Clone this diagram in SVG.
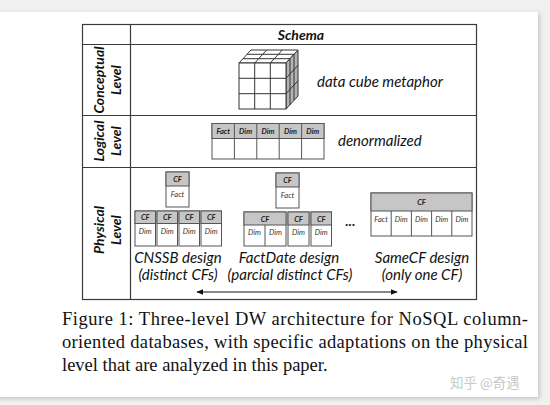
<svg xmlns="http://www.w3.org/2000/svg" width="550" height="405" viewBox="0 0 550 405">
<style>
.ln{fill:none;stroke:#3a3a3a;stroke-width:1.2}
.bx{fill:#fff;stroke:#555;stroke-width:1}
.hd{fill:#c6c6c6;stroke:#555;stroke-width:1}
.gl{stroke:#555;stroke-width:1;fill:none}
.lbl{font-family:Lato,"Open Sans",sans-serif;font-style:italic;font-weight:bold;font-size:14px;fill:#111}
.it{font-family:Lato,"Open Sans",sans-serif;font-style:italic;font-size:15px;fill:#111}
.hb{font-family:Lato,"Open Sans",sans-serif;font-style:italic;font-weight:bold;font-size:7.5px;fill:#222;text-anchor:middle}
.cl{font-family:Lato,"Open Sans",sans-serif;font-style:italic;font-size:7.5px;fill:#333;text-anchor:middle}
.cap{font-family:"Liberation Serif","Times New Roman",serif;font-size:18.5px;fill:#111}
</style>
<defs>
<marker id="ah" viewBox="0 0 10 10" refX="9" refY="5" markerWidth="7" markerHeight="7" orient="auto-start-reverse" markerUnits="userSpaceOnUse">
<path d="M0,1 L10,5 L0,9 z" fill="#111"/>
</marker>
<filter id="sh" x="-5%" y="-5%" width="110%" height="110%">
<feGaussianBlur stdDeviation="2"/>
</filter>
</defs>
<rect x="0" y="0" width="550" height="405" fill="#f1f1f1"/>
<rect x="-5" y="13" width="545" height="386" fill="#c8c8c8" filter="url(#sh)"/>
<rect x="-5" y="12" width="543" height="385" fill="#fff"/>

<g id="table">
<rect x="82.5" y="24.5" width="394" height="275" class="ln"/>
<line x1="130.5" y1="24.5" x2="130.5" y2="299.5" class="ln"/>
<line x1="82.5" y1="44.5" x2="476.5" y2="44.5" class="ln"/>
<line x1="82.5" y1="115.5" x2="476.5" y2="115.5" class="ln"/>
<line x1="82.5" y1="167.5" x2="476.5" y2="167.5" class="ln"/>
<text class="lbl" x="301" y="40" text-anchor="middle" font-size="16">Schema</text>
<text class="lbl" transform="translate(104,80) rotate(-90)" text-anchor="middle">Conceptual</text>
<text class="lbl" transform="translate(121,80) rotate(-90)" text-anchor="middle">Level</text>
<text class="lbl" transform="translate(104,141) rotate(-90)" text-anchor="middle">Logical</text>
<text class="lbl" transform="translate(121,141) rotate(-90)" text-anchor="middle">Level</text>
<text class="lbl" transform="translate(104,230) rotate(-90)" text-anchor="middle">Physical</text>
<text class="lbl" transform="translate(121,230) rotate(-90)" text-anchor="middle">Level</text>
</g>

<g id="cube">
<polygon points="239,63 286,63 298,50 251,50" fill="#fff" stroke="#333" stroke-width="1"/>
<polygon points="286,63 298,50 298,96 286,109" fill="#b4b4b4" stroke="#333" stroke-width="1"/>
<rect x="239" y="63" width="47" height="46" fill="#fff" stroke="#333" stroke-width="1"/>
<path d="M254.7,63V109M270.3,63V109M239,78.3H286M239,93.7H286" stroke="#333" stroke-width="1"/>
<path d="M254.7,63L266.7,50M270.3,63L282.3,50M243,58.7H290M247,54.3H294" stroke="#333" stroke-width="1"/>
<path d="M290,58.7V104.7M294,54.3V100.3M286,78.3L298,65.3M286,93.7L298,80.7" stroke="#333" stroke-width="1"/>
<text class="it" x="317" y="87">data cube metaphor</text>
</g>

<g id="logical">
<rect x="212" y="123.5" width="112" height="35.5" class="bx"/>
<rect x="212" y="123.5" width="112" height="15" class="hd"/>
<path d="M234.4,123.5V159M256.8,123.5V159M279.2,123.5V159M301.6,123.5V159" class="gl"/>
<text class="hb" x="223.2" y="134">Fact</text>
<text class="hb" x="245.6" y="134">Dim</text>
<text class="hb" x="268" y="134">Dim</text>
<text class="hb" x="290.4" y="134">Dim</text>
<text class="hb" x="312.8" y="134">Dim</text>
<text class="it" x="338" y="146">denormalized</text>
</g>

<g id="cnssb">
<rect x="166" y="172" width="23" height="35" class="bx"/>
<rect x="166" y="172" width="23" height="14" class="hd"/>
<text class="hb" x="177.5" y="182">CF</text>
<text class="cl" x="177.5" y="197">Fact</text>
<rect x="135" y="211" width="20.5" height="35" class="bx"/>
<rect x="135" y="211" width="20.5" height="12.5" class="hd"/>
<rect x="157" y="211" width="20.5" height="35" class="bx"/>
<rect x="157" y="211" width="20.5" height="12.5" class="hd"/>
<rect x="179" y="211" width="20.5" height="35" class="bx"/>
<rect x="179" y="211" width="20.5" height="12.5" class="hd"/>
<rect x="201" y="211" width="20.5" height="35" class="bx"/>
<rect x="201" y="211" width="20.5" height="12.5" class="hd"/>
<text class="hb" x="145.2" y="220">CF</text>
<text class="hb" x="167.2" y="220">CF</text>
<text class="hb" x="189.2" y="220">CF</text>
<text class="hb" x="211.2" y="220">CF</text>
<text class="cl" x="145.2" y="234">Dim</text>
<text class="cl" x="167.2" y="234">Dim</text>
<text class="cl" x="189.2" y="234">Dim</text>
<text class="cl" x="211.2" y="234">Dim</text>
<text class="it" x="178" y="263" text-anchor="middle">CNSSB design</text>
<text class="it" x="178" y="280" text-anchor="middle">(distinct CFs)</text>
</g>

<g id="factdate">
<rect x="276" y="173" width="23" height="35" class="bx"/>
<rect x="276" y="173" width="23" height="14" class="hd"/>
<text class="hb" x="287.5" y="183">CF</text>
<text class="cl" x="287.5" y="198">Fact</text>
<rect x="244" y="212" width="42" height="34" class="bx"/>
<rect x="244" y="212" width="42" height="13" class="hd"/>
<line x1="265" y1="225" x2="265" y2="246" class="gl"/>
<rect x="288" y="212" width="21" height="34" class="bx"/>
<rect x="288" y="212" width="21" height="13" class="hd"/>
<rect x="311" y="212" width="20.5" height="34" class="bx"/>
<rect x="311" y="212" width="20.5" height="13" class="hd"/>
<text class="hb" x="265" y="221.5">CF</text>
<text class="hb" x="298.5" y="221.5">CF</text>
<text class="hb" x="321.2" y="221.5">CF</text>
<text class="cl" x="254.5" y="235">Dim</text>
<text class="cl" x="275.5" y="235">Dim</text>
<text class="cl" x="298.5" y="235">Dim</text>
<text class="cl" x="321.2" y="235">Dim</text>
<text class="it" x="289" y="263" text-anchor="middle">FactDate design</text>
<text class="it" x="290" y="280" text-anchor="middle">(parcial distinct CFs)</text>
</g>

<g id="dots">
<text x="350" y="226" font-family="Lato,'Open Sans',sans-serif" font-size="14" font-weight="bold" fill="#222" text-anchor="middle">...</text>
</g>

<g id="samecf">
<rect x="371" y="193" width="101" height="43" class="bx"/>
<rect x="371" y="193" width="101" height="18" class="hd"/>
<path d="M391.2,211V236M411.4,211V236M431.6,211V236M451.8,211V236" class="gl"/>
<text class="hb" x="421.5" y="204.5">CF</text>
<text class="cl" x="381.1" y="222">Fact</text>
<text class="cl" x="401.3" y="222">Dim</text>
<text class="cl" x="421.5" y="222">Dim</text>
<text class="cl" x="441.7" y="222">Dim</text>
<text class="cl" x="461.9" y="222">Dim</text>
<text class="it" x="422" y="263" text-anchor="middle">SameCF design</text>
<text class="it" x="422" y="280" text-anchor="middle">(only one CF)</text>
</g>

<g id="connectors">
<line x1="197" y1="292" x2="397" y2="292" stroke="#111" stroke-width="1" marker-start="url(#ah)" marker-end="url(#ah)"/>
</g>

<g id="caption">
<text class="cap" x="62" y="325" textLength="466" lengthAdjust="spacing">Figure 1: Three-level DW architecture for NoSQL column-</text>
<text class="cap" x="62" y="348" textLength="466" lengthAdjust="spacing">oriented databases, with specific adaptations on the physical</text>
<text class="cap" x="62" y="371">level that are analyzed in this paper.</text>
<text x="450" y="388" font-family="'Noto Sans CJK SC',sans-serif" font-size="13.5" fill="#c9c9c9">知乎 @奇遇</text>
</g>
</svg>
